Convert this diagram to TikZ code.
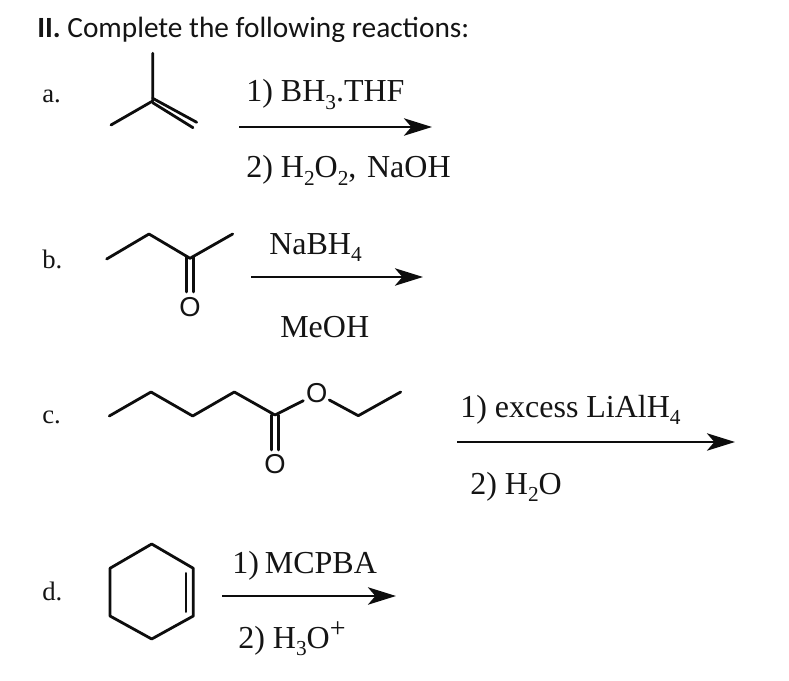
\documentclass[tikz,border=0pt]{standalone}
\usepackage{fontspec}
\setmainfont{Liberation Serif}
\newfontfamily\titlefont{Carlito}
\newfontfamily\atomfont{Liberation Sans}
\usetikzlibrary{arrows.meta}
\newcommand{\csub}[1]{\raisebox{-0.22em}{\fontsize{16}{16}\selectfont #1}}
\newcommand{\csup}[1]{\raisebox{0.34em}{\fontsize{21}{21}\selectfont #1}}
\tikzset{
  bond/.style={line width=2.1pt,line cap=round,line join=round,draw=black!95},
  rxnarrow/.style={line width=2.1pt,draw=black!95,-{Stealth[length=21pt,width=13pt,inset=5.5pt]}},
  reagent/.style={anchor=base west,inner sep=0pt,font=\fontsize{24}{24}\selectfont,text=black!92},
  itemlabel/.style={anchor=base west,inner sep=0pt,font=\fontsize{20}{20}\selectfont,text=black!92},
  oxygen/.style={inner sep=0pt,font=\atomfont\fontsize{20.5}{20.5}\selectfont,text=black!92},
  titletext/.style={anchor=base west,inner sep=0pt,font=\titlefont\fontsize{22}{22}\selectfont,text=black!92}
}
\begin{document}
\begin{tikzpicture}[x=0.75pt,y=-0.75pt]
\useasboundingbox (0,0) rectangle (789,681);
\fill[white] (0,0) rectangle (789,681);
\node[titletext] (title) at (37,38) {\textbf{II.} Complete the following reactions:};
\node[itemlabel] (la) at (42,103) {a.};
\node[itemlabel] (lb) at (42,268) {b.};
\node[itemlabel] (lc) at (42,423) {c.};
\node[itemlabel] (ld) at (42,600) {d.};
% a
\coordinate (a1) at (152.7,53.3);
\coordinate (a2) at (152.7,101);
\coordinate (a3) at (111,125);
\coordinate (a4) at (152.7,98.3);
\coordinate (a5) at (196.7,122.3);
\coordinate (a6) at (152.7,102.7);
\coordinate (a7) at (193,127.7);
\draw[bond] (a1) -- (a2) -- (a3);
\draw[bond] (a4) -- (a5);
\draw[bond] (a6) -- (a7);
\coordinate (a8) at (239,127);
\coordinate (a9) at (432,127);
\draw[rxnarrow] (a8) -- (a9);
\node[reagent] (ra1) at (246,102) {1) BH\csub{3}.THF};
\node[reagent] (ra2) at (246,178) {2) H\csub{2}O\csub{2},\kern2pt\ NaOH};
% b
\coordinate (b1) at (106.7,259);
\coordinate (b2) at (149,234);
\coordinate (b3) at (190,258.3);
\coordinate (b4) at (232.7,234);
\coordinate (b5) at (186.7,257);
\coordinate (b6) at (186.7,292);
\coordinate (b7) at (193.3,257);
\coordinate (b8) at (193.3,292);
\node[oxygen] (bo) at (190,307) {O};
\draw[bond] (b1) -- (b2) -- (b3) -- (b4);
\draw[bond] (b5) -- (b6);
\draw[bond] (b7) -- (b8);
\coordinate (b9) at (251,277);
\coordinate (b10) at (423,277);
\draw[rxnarrow] (b9) -- (b10);
\node[reagent] (rb1) at (269,254) {NaBH\csub{4}};
\node[reagent] (rb2) at (280,337) {MeOH};
% c
\coordinate (c1) at (109.3,416);
\coordinate (c2) at (151,392);
\coordinate (c3) at (192.7,416);
\coordinate (c4) at (234.3,392);
\coordinate (c5) at (275,415);
\node[oxygen] (co1) at (316.7,393.3) {O};
\coordinate (c6) at (303.3,400.7);
\coordinate (c7) at (329.3,400);
\coordinate (c8) at (358.3,415.7);
\coordinate (c9) at (400.7,392);
\draw[bond] (c1) -- (c2) -- (c3) -- (c4) -- (c5) -- (c6);
\draw[bond] (c7) -- (c8) -- (c9);
\coordinate (c10) at (271.4,415);
\coordinate (c11) at (271.4,450);
\coordinate (c12) at (278.6,415);
\coordinate (c13) at (278.6,450);
\node[oxygen] (co2) at (275,464.3) {O};
\draw[bond] (c10) -- (c11);
\draw[bond] (c12) -- (c13);
\coordinate (c14) at (457,442);
\coordinate (c15) at (735,442);
\draw[rxnarrow] (c14) -- (c15);
\node[reagent] (rc1) at (460,417) {1) excess LiAlH\csub{4}};
\node[reagent] (rc2) at (470,494) {2) H\csub{2}O};
% d
\coordinate (d1) at (151.7,544);
\coordinate (d2) at (193.3,568.3);
\coordinate (d3) at (193.3,616);
\coordinate (d4) at (151.7,639);
\coordinate (d5) at (110,616);
\coordinate (d6) at (110,568.3);
\draw[bond] (d1) -- (d2) -- (d3) -- (d4) -- (d5) -- (d6) -- cycle;
\coordinate (d7) at (186,573.3);
\coordinate (d8) at (186,611.7);
\draw[bond] (d7) -- (d8);
\coordinate (d9) at (222,596);
\coordinate (d10) at (396,596);
\draw[rxnarrow] (d9) -- (d10);
\node[reagent] (rd1) at (232,573) {1)\kern-1.5pt\ MCPBA};
\node[reagent] (rd2) at (238,648) {2) H\csub{3}O\csup{+}};
\end{tikzpicture}
\end{document}
